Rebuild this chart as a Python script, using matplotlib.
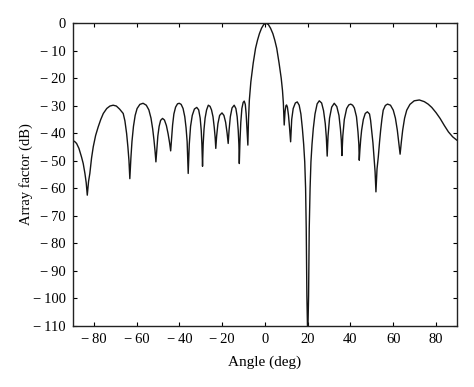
import matplotlib
matplotlib.use('Agg')
import matplotlib.pyplot as plt
from matplotlib.ticker import FuncFormatter

# angle (deg) and array factor (dB)
angle = [
    -90.0, -89.0, -88.1, -87.0, -85.8, -85.0, -84.2, -83.6, -83.1, -82.5,
    -81.9, -81.1, -80.3, -79.2, -78.0, -76.8, -75.6, -74.0, -72.5, -71.0,
    -69.5, -68.0, -66.3, -65.5, -64.7, -64.1, -63.6, -63.2, -62.7, -62.2,
    -61.5, -60.7, -59.8, -58.5, -57.0, -55.5, -54.3, -53.3, -52.5, -51.9,
    -51.4, -51.0, -50.6, -50.1, -49.5, -48.8, -47.9, -47.0, -46.1, -45.3,
    -44.6, -44.1, -43.7, -43.2, -42.6, -41.8, -40.9, -40.1, -39.2, -38.3,
    -37.5, -36.9, -36.4, -35.9, -35.4, -34.8, -34.0, -33.0, -31.9, -31.0,
    -30.3, -29.8, -29.5, -29.2, -28.9, -28.5, -28.0, -27.3, -26.5, -25.7,
    -25.0, -24.3, -23.7, -23.3, -23.0, -22.6, -22.0, -21.2, -20.1, -19.2,
    -18.4, -17.7, -17.2, -16.8, -16.2, -15.4, -14.4, -13.6, -13.0, -12.5,
    -12.2, -12.0, -11.7, -11.3, -10.8, -10.2, -9.7, -9.2, -8.8, -8.4,
    -8.0, -7.7, -7.3, -6.6, -5.5, -4.4, -3.5, -2.6, -1.6, -0.6,
    0.5, 1.6, 2.6, 3.7, 4.6, 5.5, 6.6, 7.6, 8.2, 8.6,
    9.0, 9.4, 9.8, 10.1, 10.5, 11.0, 11.5, 12.0, 12.5, 13.2,
    14.2, 15.1, 16.0, 16.8, 17.5, 18.1, 18.6, 19.0, 19.3, 19.6,
    20.0, 20.4, 20.7, 21.1, 21.5, 22.0, 22.6, 23.4, 24.4, 25.4,
    26.5, 27.4, 28.2, 28.7, 29.1, 29.5, 30.2, 31.2, 32.4, 33.6,
    34.6, 35.3, 35.7, 36.0, 36.4, 37.1, 38.2, 39.2, 40.1, 41.0,
    41.8, 42.8, 43.5, 43.9, 44.1, 44.4, 44.8, 45.2, 46.0, 46.9,
    47.9, 48.9, 49.4, 49.9, 50.5, 51.0, 51.5, 51.9, 52.4, 53.0,
    53.6, 54.1, 54.7, 55.3, 56.3, 57.3, 58.7, 60.0, 61.0, 61.9,
    62.6, 63.2, 63.8, 64.4, 65.3, 66.3, 67.8, 69.8, 72.2, 74.5,
    76.3, 78.0, 80.0, 81.9, 83.9, 85.8, 87.8, 89.7, 90.0,
]
af_db = [
    -42.6, -43.0, -43.7, -45.5, -48.6, -51.0, -54.6, -58.0, -62.5, -57.5,
    -54.6, -49.0, -44.9, -40.8, -37.7, -35.0, -32.8, -31.0, -30.1, -29.8,
    -30.1, -31.2, -32.8, -35.5, -40.1, -45.0, -50.0, -56.5, -49.0, -43.0,
    -37.5, -33.5, -31.0, -29.5, -29.1, -29.8, -31.5, -34.5, -38.5, -42.5,
    -46.5, -50.4, -46.0, -41.0, -37.5, -35.3, -34.6, -35.2, -37.2, -40.2,
    -43.5, -46.4, -42.0, -37.0, -33.0, -30.5, -29.3, -29.1, -29.5, -31.0,
    -34.0, -38.0, -43.0, -54.6, -44.0, -37.5, -33.5, -31.2, -30.6, -31.5,
    -34.5, -39.0, -44.0, -52.0, -44.0, -38.5, -34.5, -31.5, -29.8, -30.2,
    -31.5, -34.0, -38.0, -41.5, -45.5, -41.0, -36.5, -33.5, -32.6, -33.5,
    -36.0, -40.0, -43.7, -39.0, -34.0, -30.8, -29.8, -31.0, -34.0, -39.0,
    -44.0, -51.0, -43.0, -36.0, -31.0, -28.8, -28.3, -29.5, -33.0, -38.5,
    -44.3, -35.0, -27.9, -21.3, -14.5, -9.1, -6.2, -3.8, -1.8, -0.5,
    0.0, -0.5, -1.8, -3.8, -6.2, -9.1, -14.5, -20.0, -24.5, -29.0,
    -37.0, -32.0, -30.0, -29.7, -30.5, -33.5, -38.0, -43.1, -35.0, -31.0,
    -29.0, -28.6, -29.8, -33.0, -38.3, -44.0, -50.4, -60.0, -74.7, -99.0,
    -115.0, -99.0, -74.7, -60.0, -50.4, -44.0, -38.3, -33.0, -29.3, -28.2,
    -29.0, -31.8, -36.5, -41.5, -48.3, -41.0, -34.5, -30.5, -29.1, -30.3,
    -33.5, -38.5, -42.5, -48.1, -41.0, -35.0, -31.0, -29.7, -29.4, -29.8,
    -30.8, -34.0, -39.5, -44.0, -49.8, -46.0, -42.0, -38.9, -35.0, -32.8,
    -32.2, -33.0, -35.3, -38.9, -43.5, -48.6, -54.0, -61.3, -53.0, -48.6,
    -43.0, -38.9, -34.8, -31.6, -29.9, -29.4, -29.8, -31.6, -34.5, -38.9,
    -43.5, -47.6, -43.0, -38.9, -34.5, -31.6, -29.5, -28.2, -27.9, -28.5,
    -29.4, -30.6, -32.5, -34.6, -37.2, -39.5, -41.3, -42.5, -42.6,
]
x_ticks = [-80, -60, -40, -20, 0, 20, 40, 60, 80]
y_ticks = [0, -10, -20, -30, -40, -50, -60, -70, -80, -90, -100, -110]

plt.rcParams['font.family'] = ['Liberation Serif', 'DejaVu Serif']


def fmt(v, pos):
    # wide minus with a small gap, as in the original typesetting
    if v < 0:
        return '\u2212\u2009%d' % abs(v)
    return '%d' % v


fig = plt.figure(figsize=(4.74, 3.87), dpi=100)
ax = fig.add_axes([0.153, 0.158, 0.812, 0.782])

ax.plot(angle, af_db, color='#151515', linewidth=1.0)

ax.set_xlim(-90, 90)
ax.set_ylim(-110, 0)
ax.set_xticks(x_ticks)
ax.set_yticks(y_ticks)
ax.xaxis.set_major_formatter(FuncFormatter(fmt))
ax.yaxis.set_major_formatter(FuncFormatter(fmt))
ax.tick_params(direction='in', top=True, right=True, length=3,
               width=0.8, labelsize=10.5, pad=5)
for s in ax.spines.values():
    s.set_linewidth(1.0)
    s.set_color('#222222')

ax.set_xlabel('Angle (deg)', fontsize=11, labelpad=7)
ax.set_ylabel('Array factor (dB)', fontsize=10.5, labelpad=0)

fig.savefig('out.png', dpi=100)
